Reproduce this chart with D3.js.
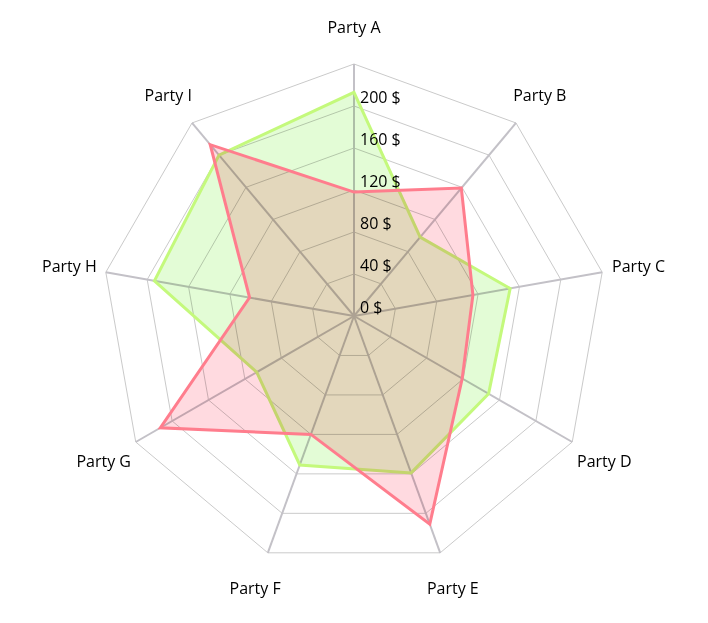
<!DOCTYPE html>
<html>
<head>
<meta charset="utf-8">
<script src="https://cdn.jsdelivr.net/npm/d3@7"></script>
<style>
  body { margin: 0; background: #fff; }
  text { font-family: "Open Sans", "Noto Sans", sans-serif; fill: #000; }
</style>
</head>
<body>
<div id="chart"></div>
<script>
// radar of two series over nine parties
const parties = ["Party A", "Party B", "Party C", "Party D", "Party E", "Party F", "Party G", "Party H", "Party I"];
const greenValues = [213, 98, 151, 148, 159, 151, 107, 193, 200];
const redValues = [118, 159, 115, 119, 211, 120, 213, 101, 213];
const ringLevels = [40, 80, 120, 160, 200, 240];
const tickValues = [0, 40, 80, 120, 160, 200];

const width = 708, height = 623;
const cx = 354, cy = 316;

const svg = d3.select('#chart').append('svg').attr('width', width).attr('height', height);
const g = svg.append('g').attr('transform', `translate(${cx},${cy})`);

const r = d3.scaleLinear().domain([0, 240]).range([0, 252]);
const angle = d3.scaleLinear().domain([0, parties.length]).range([0, 2 * Math.PI]);

const ring = d3.lineRadial()
    .angle((d, i) => angle(i))
    .radius(d => r(d))
    .curve(d3.curveLinearClosed);

// grid rings
g.selectAll('.ring')
    .data(ringLevels)
    .join('path')
    .attr('class', 'ring')
    .attr('d', v => ring(parties.map(() => v)))
    .attr('fill', 'none')
    .attr('stroke', '#cacaca')
    .attr('stroke-width', 1);

// spokes
g.selectAll('.spoke')
    .data(parties)
    .join('line')
    .attr('class', 'spoke')
    .attr('x1', 0).attr('y1', 0)
    .attr('x2', (d, i) => d3.pointRadial(angle(i), r(240))[0])
    .attr('y2', (d, i) => d3.pointRadial(angle(i), r(240))[1])
    .attr('stroke', '#c3c1c7')
    .attr('stroke-width', 2);

const series = [
    { values: greenValues, fill: 'rgb(227,252,214)', stroke: '#c4f97c' },
    { values: redValues, fill: 'rgb(255,218,224)', stroke: '#ff7d8d' }
];

series.forEach(s => {
    g.append('path')
        .attr('d', ring(s.values))
        .attr('fill', s.fill)
        .style('mix-blend-mode', 'multiply');
    g.append('path')
        .attr('d', ring(s.values))
        .attr('fill', 'none')
        .attr('stroke', s.stroke)
        .attr('stroke-width', 3)
        .attr('stroke-linejoin', 'miter');
});

// value labels along Party A
g.selectAll('.tick')
    .data(tickValues)
    .join('text')
    .attr('class', 'tick')
    .attr('x', 6)
    .attr('y', v => -r(v) - 3)
    .attr('font-size', 16)
    .text(v => v + ' $');

// party labels
g.selectAll('.party')
    .data(parties)
    .join('text')
    .attr('class', 'party')
    .attr('x', (d, i) => d3.pointRadial(angle(i), 289)[0])
    .attr('y', (d, i) => d3.pointRadial(angle(i), 289)[1])
    .attr('text-anchor', 'middle')
    .attr('dominant-baseline', 'central')
    .attr('font-size', 16)
    .text(d => d);
</script>
</body>
</html>
